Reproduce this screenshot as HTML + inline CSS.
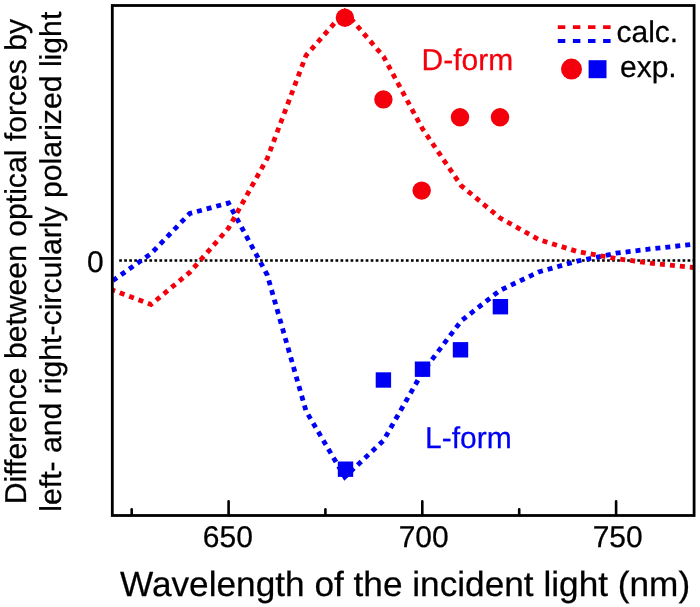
<!DOCTYPE html>
<html><head><meta charset="utf-8"><style>
html,body{margin:0;padding:0;background:#fff;}
svg{display:block;}
#w{will-change:transform;width:700px;height:607px;}
text{font-family:"Liberation Sans",sans-serif;text-rendering:geometricPrecision;}
</style></head><body><div id="w">
<svg width="700" height="607" viewBox="0 0 700 607">
<rect x="0" y="0" width="700" height="607" fill="#fff"/>
<defs><clipPath id="c"><rect x="112.3" y="5.5" width="581.8" height="510"/></clipPath></defs>
<line x1="119.2" y1="260.5" x2="694" y2="260.5" stroke="#000" stroke-width="2.7" stroke-dasharray="2.7 2.33"/>
<g clip-path="url(#c)" fill="none" stroke-width="4.8" stroke-dasharray="5 5" stroke-linejoin="miter">
<path d="M112.3,281.0 L151.0,253.6 L189.7,213.5 L228.5,203.0 L267.3,275.0 L306.0,411.0 L344.8,477.0 L383.5,440.5 L422.3,372.5 L461.1,321.0 L499.8,290.5 L538.6,272.0 L577.3,261.1 L616.1,253.2 L654.9,248.4 L693.6,244.3" stroke="#0000f5" stroke-dashoffset="-0.7"/>
<path d="M112.3,290.0 L151.0,304.5 L189.7,272.4 L228.5,228.2 L267.3,158.3 L306.0,55.5 L344.8,11.5 L383.5,56.5 L422.3,128.5 L461.1,185.5 L499.8,217.8 L538.6,239.5 L577.3,251.5 L616.1,258.6 L654.9,263.7 L693.6,267.5" stroke="#f3000c" stroke-dashoffset="2"/>
</g>
<circle cx="344.9" cy="17.7" r="9.2" fill="#f3000c"/>
<circle cx="383.4" cy="99.4" r="9.2" fill="#f3000c"/>
<circle cx="421.7" cy="190.6" r="9.2" fill="#f3000c"/>
<circle cx="460" cy="117.3" r="9.2" fill="#f3000c"/>
<circle cx="500" cy="117.3" r="9.2" fill="#f3000c"/>
<rect x="337.8" y="461.5" width="15.4" height="15.4" fill="#0000f5"/>
<rect x="375.7" y="372.3" width="15.4" height="15.4" fill="#0000f5"/>
<rect x="414.8" y="361.5" width="15.4" height="15.4" fill="#0000f5"/>
<rect x="452.8" y="342.1" width="15.4" height="15.4" fill="#0000f5"/>
<rect x="492.7" y="299.0" width="15.4" height="15.4" fill="#0000f5"/>
<rect x="112.3" y="5.5" width="581.8" height="510" fill="none" stroke="#000" stroke-width="2.8"/>
<g stroke="#000" stroke-width="2.6" stroke-linecap="round">
<line x1="131.7" y1="509.4" x2="131.7" y2="515"/>
<line x1="228.6" y1="501.4" x2="228.6" y2="515"/>
<line x1="325.4" y1="509.4" x2="325.4" y2="515"/>
<line x1="422.3" y1="501.4" x2="422.3" y2="515"/>
<line x1="519.2" y1="509.4" x2="519.2" y2="515"/>
<line x1="616.1" y1="501.4" x2="616.1" y2="515"/>
</g>
<g font-size="30" fill="#000" stroke="#000" stroke-width="0.25">
<text transform="translate(227.8,547.2)" text-anchor="middle">650</text>
<text transform="translate(423.7,547.2)" text-anchor="middle">700</text>
<text transform="translate(617.7,547.2)" text-anchor="middle">750</text>
<text transform="translate(87,271.8)">0</text>
<text x="616.5" y="42">calc.</text>
<text x="620" y="76.7">exp.</text>
<text x="421.5" y="69.5" fill="#f3000c" stroke="#f3000c">D-form</text>
<text x="425" y="448.3" fill="#0000f5" stroke="#0000f5">L-form</text>
<text transform="translate(26.4,261.6) rotate(-90)" font-size="30.15" text-anchor="middle">Difference between optical forces by</text>
<text transform="translate(61.3,261.7) rotate(-90)" font-size="30.2" text-anchor="middle">left- and right-circularly polarized light</text>
</g>
<text transform="translate(120,596.4) scale(1.006,1)" font-size="35" fill="#000" stroke="#000" stroke-width="0.25">Wavelength of the incident light (nm)</text>
<line x1="557.8" y1="27.2" x2="611" y2="27.2" stroke="#f3000c" stroke-width="3.8" stroke-dasharray="7.5 7.6"/>
<line x1="557.8" y1="41" x2="611" y2="41" stroke="#0000f5" stroke-width="3.8" stroke-dasharray="7.5 7.6"/>
<circle cx="571.5" cy="69.1" r="10.5" fill="#f3000c"/>
<rect x="588.6" y="60.2" width="17.9" height="18" fill="#0000f5"/>
</svg></div>
</body></html>
